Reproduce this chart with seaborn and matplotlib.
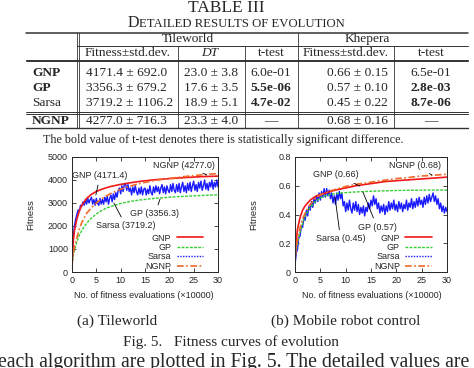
import numpy as np
import matplotlib
matplotlib.use("Agg")
import matplotlib.pyplot as plt
import pandas as pd
import seaborn as sns

# ---- data ----
methods = ["GNP", "GP", "Sarsa", "NGNP"]
method_bold = [True, True, False, True]
tile_fit = ["4171.4 ± 692.0", "3356.3 ± 679.2", "3719.2 ± 1106.2", "4277.0 ± 716.3"]
tile_dt = ["23.0 ± 3.8", "17.6 ± 3.5", "18.9 ± 5.1", "23.3 ± 4.0"]
tile_tt = ["6.0e-01", "5.5e-06", "4.7e-02", "—"]
khep_fit = ["0.66 ± 0.15", "0.57 ± 0.10", "0.45 ± 0.22", "0.68 ± 0.16"]
khep_tt = ["6.5e-01", "2.8e-03", "8.7e-06", "—"]
tile_bold = [False, True, True, False]
khep_bold = [False, True, True, False]

x_smooth = [0, 0.25, 0.5, 1, 1.5, 2, 3, 4, 5, 6, 7, 8, 10, 12, 14, 16, 18, 20, 22, 24, 26, 28, 30]
tw_gnp = [300, 1300, 1800, 2300, 2650, 2900, 3200, 3380, 3500, 3590, 3660, 3720, 3810, 3880, 3940,
          3990, 4030, 4060, 4090, 4115, 4140, 4155, 4170]
tw_ngnp = [300, 800, 1100, 1500, 1850, 2150, 2550, 2800, 3000, 3170, 3300, 3420, 3600, 3740, 3850,
           3940, 4010, 4070, 4120, 4170, 4210, 4250, 4280]
tw_gp = [300, 700, 950, 1300, 1600, 1800, 2120, 2350, 2520, 2660, 2770, 2850, 2980, 3070, 3130,
         3180, 3220, 3250, 3280, 3300, 3320, 3340, 3360]
tw_sarsa = [300, 1500, 2000, 2300, 2500, 2700, 2650, 2900, 2850, 3050, 2900, 3150,
            2950, 3200, 3000, 3150, 3250, 2950, 3150, 2900, 3200, 3000, 2900, 3200,
            2950, 3150, 2950, 3250, 3050, 3300, 2950, 3200, 3350, 3050, 3400, 3150,
            3450, 3250, 3550, 3650, 3400, 3750, 3500, 3800, 3850, 3550, 3800, 3500,
            3650, 3350, 3700, 3450, 3750, 3500, 3350, 3650, 3400, 3700, 3350, 3600,
            3650, 3350, 3600, 3400, 3750, 3450, 3350, 3700, 3450, 3750, 3500, 3700,
            3400, 3650, 3800, 3450, 3700, 3400, 3750, 3550, 3450, 3800, 3500, 3850,
            3550, 3450, 3800, 3500, 3850, 3450, 3700, 3900, 3500, 3750, 3450, 3850,
            3550, 3900, 3500, 3750, 3950, 3550, 3800, 3500, 3900, 3650, 3950, 3550,
            3750, 4000, 3600, 3850, 3550, 3900, 3700, 4000, 3600, 3900, 3700, 4000,
            3700]

kh_gnp = [0.1, 0.22, 0.3, 0.38, 0.43, 0.46, 0.5, 0.525, 0.54, 0.55, 0.56, 0.57, 0.585, 0.6, 0.61,
          0.62, 0.63, 0.635, 0.64, 0.645, 0.65, 0.655, 0.66]
kh_ngnp = [0.1, 0.17, 0.23, 0.31, 0.37, 0.41, 0.47, 0.51, 0.535, 0.55, 0.565, 0.575, 0.595, 0.61,
           0.62, 0.63, 0.64, 0.65, 0.655, 0.665, 0.67, 0.675, 0.68]
kh_gp = [0.1, 0.15, 0.2, 0.28, 0.34, 0.39, 0.45, 0.49, 0.515, 0.53, 0.54, 0.545, 0.552, 0.557, 0.56,
         0.563, 0.565, 0.567, 0.568, 0.569, 0.57, 0.57, 0.57]
kh_sarsa = [0.05, 0.13, 0.16, 0.24, 0.25, 0.32, 0.31, 0.38, 0.36, 0.43, 0.39, 0.46,
            0.43, 0.49, 0.45, 0.51, 0.48, 0.53, 0.49, 0.55, 0.50, 0.56, 0.52, 0.58,
            0.52, 0.58, 0.53, 0.57, 0.51, 0.55, 0.48, 0.53, 0.47, 0.55, 0.50, 0.56,
            0.51, 0.55, 0.46, 0.49, 0.42, 0.48, 0.43, 0.50, 0.44, 0.41, 0.48, 0.43,
            0.49, 0.42, 0.47, 0.40, 0.45, 0.41, 0.46, 0.39, 0.45, 0.42, 0.48, 0.44,
            0.50, 0.46, 0.53, 0.47, 0.51, 0.44, 0.48, 0.41, 0.46, 0.42, 0.47, 0.40,
            0.46, 0.42, 0.49, 0.43, 0.48, 0.44, 0.50, 0.43, 0.47, 0.42, 0.49, 0.44,
            0.48, 0.42, 0.47, 0.44, 0.50, 0.43, 0.48, 0.45, 0.51, 0.44, 0.49, 0.45,
            0.51, 0.46, 0.52, 0.47, 0.50, 0.45, 0.52, 0.47, 0.53, 0.48, 0.54, 0.49,
            0.52, 0.55, 0.49, 0.53, 0.47, 0.51, 0.44, 0.48, 0.42, 0.46, 0.41, 0.45,
            0.42]

colors = {"GNP": "#f01818", "GP": "#30d030", "Sarsa": "#1a1aff", "NGNP": "#f06a28"}
styles = {"GNP": "-", "GP": (0, (2, 1)), "Sarsa": (0, (1, 1)), "NGNP": (0, (4, 1.5, 1, 1.5))}
widths = {"GNP": 1.2, "GP": 1.0, "Sarsa": 1.0, "NGNP": 1.2}

sns.set_style("ticks")
plt.rcParams["font.family"] = ["Liberation Sans", "DejaVu Sans"]

W, H = 474, 368
fig = plt.figure(figsize=(W / 100, H / 100), dpi=100)


def fx(x):
    return x / W


def fy(y):
    return 1 - y / H


serif = ["Liberation Serif", "DejaVu Serif"]


def ftext(x, y, s, **kw):
    kw.setdefault("family", serif)
    kw.setdefault("va", "center")
    fig.text(fx(x), fy(y), s, **kw)


def hline(y, x0, x1, lw=0.8):
    fig.add_artist(plt.Line2D([fx(x0), fx(x1)], [fy(y), fy(y)], color="#333333", lw=lw))


def vline(x, y0, y1, lw=0.6):
    fig.add_artist(plt.Line2D([fx(x), fx(x)], [fy(y0), fy(y1)], color="#333333", lw=lw))


# ---- table ----
ftext(226, 8, "TABLE III", ha="center", size=12.5)
ftext(139, 23, "D", ha="right", size=11.5)
ftext(139, 23.8, "ETAILED RESULTS OF EVOLUTION", ha="left", size=9.2)

hline(32.5, 26, 468, 1.1)
hline(46, 77, 468, 0.7)
hline(59.5, 26, 468, 0.7)
hline(61, 26, 468, 0.7)
hline(112.5, 26, 468, 0.7)
hline(114, 26, 468, 0.7)
hline(128, 26, 468, 1.0)
vline(77, 32.5, 128)
vline(79, 32.5, 128)
for xv in [177.5, 244.5, 394]:
    vline(xv, 46, 128)
vline(298, 32.5, 128)

fs = 9.6
ftext(188, 39, "Tileworld", ha="center", size=fs)
ftext(367, 39, "Khepera", ha="center", size=fs)
ftext(128, 53.5, "Fitness±std.dev.", ha="center", size=fs)
ftext(210, 53.5, "DT", ha="center", size=fs, style="italic")
ftext(271, 53.5, "t-test", ha="center", size=fs)
ftext(346, 53.5, "Fitness±std.dev.", ha="center", size=fs)
ftext(431, 53.5, "t-test", ha="center", size=fs)

row_y = [73, 88, 103, 121]
for i, m in enumerate(methods):
    y = row_y[i]
    ftext(32, y, m, ha="left", size=fs, weight="bold" if method_bold[i] else "normal")
    ftext(86, y, tile_fit[i], ha="left", size=fs)
    ftext(238, y, tile_dt[i], ha="right", size=fs)
    ftext(271, y, tile_tt[i], ha="center", size=fs, weight="bold" if tile_bold[i] else "normal")
    ftext(388, y, khep_fit[i], ha="right", size=fs)
    ftext(431, y, khep_tt[i], ha="center", size=fs, weight="bold" if khep_bold[i] else "normal")

ftext(223, 140, "The bold value of t-test denotes there is statistically significant difference.",
      ha="center", size=8.7)

# ---- charts ----
x_sarsa_tw = np.linspace(0, 30, len(tw_sarsa))
x_sarsa_kh = np.linspace(0, 30, len(kh_sarsa))

ax1 = fig.add_axes([fx(72), fy(272), fx(218 - 72), (272 - 157) / H])
ax2 = fig.add_axes([fx(295), fy(272), fx(447 - 295), (272 - 157) / H])

panels = [
    (ax1, {"GNP": (x_smooth, tw_gnp), "GP": (x_smooth, tw_gp), "Sarsa": (x_sarsa_tw, tw_sarsa),
           "NGNP": (x_smooth, tw_ngnp)}, 5000, [0, 1000, 2000, 3000, 4000, 5000]),
    (ax2, {"GNP": (x_smooth, kh_gnp), "GP": (x_smooth, kh_gp), "Sarsa": (x_sarsa_kh, kh_sarsa),
           "NGNP": (x_smooth, kh_ngnp)}, 0.8, [0, 0.2, 0.4, 0.6, 0.8]),
]

handles = [plt.Line2D([], [], color=colors[m], linestyle=styles[m], lw=widths[m]) for m in methods]

for ax, series, ymax, yt in panels:
    for m in ["Sarsa", "GP", "GNP", "NGNP"]:
        xs, ys = series[m]
        ls = "-" if m == "Sarsa" else styles[m]
        sns.lineplot(x=xs, y=ys, ax=ax, color=colors[m], linestyle=ls, lw=widths[m], legend=False)
    ax.set_xlim(0, 30)
    ax.set_ylim(0, ymax)
    ax.set_xticks([0, 5, 10, 15, 20, 25, 30])
    ax.set_yticks(yt)
    ax.set_yticklabels([f"{v:g}" for v in yt])
    ax.tick_params(direction="in", length=3, width=0.6, labelsize=6.5, top=True, right=True, pad=3)
    for s in ax.spines.values():
        s.set_linewidth(0.7)
        s.set_visible(True)
    ax.set_xlabel("")
    ax.set_ylabel("Fitness", fontsize=6.8)
    ax.legend(handles, methods, loc="lower right", bbox_to_anchor=(0.94, -0.045),
              frameon=False, markerfirst=False, fontsize=6.5, handlelength=2.9, labelspacing=0.05,
              handletextpad=0.6, borderpad=0.2)

ax1.yaxis.set_label_coords(-0.25, 0.5)
ax2.yaxis.set_label_coords(-0.24, 0.5)

arrow = dict(arrowstyle="-", lw=0.6, color="black", shrinkA=1, shrinkB=0)
ann1 = [("GNP (4171.4)", (5.75, 4174), (4.9, 3350)),
        ("NGNP (4277.0)", (22.9, 4652), (27.7, 4217)),
        ("GP (3356.3)", (17.05, 2522), (18.1, 3174)),
        ("Sarsa (3719.2)", (11.1, 2000), (8.6, 3000))]
ann2 = [("GNP (0.66)", (8.0, 0.675), (12.8, 0.598)),
        ("NGNP (0.68)", (23.6, 0.744), (27.0, 0.675)),
        ("GP (0.57)", (16.2, 0.313), (13.4, 0.557)),
        ("Sarsa (0.45)", (9.0, 0.23), (7.9, 0.52))]
for ax, anns in [(ax1, ann1), (ax2, ann2)]:
    for s, txy, pxy in anns:
        ax.annotate(s, xy=pxy, xytext=txy, ha="center", va="center", fontsize=6.5,
                    arrowprops=arrow)

fig.text(fx(144), fy(296), "No. of fitness evaluations (×10000)", ha="center", va="center", size=6.5)
fig.text(fx(372), fy(296), "No. of fitness evaluations (×10000)", ha="center", va="center", size=6.5)

ftext(117, 321, "(a) Tileworld", ha="center", size=11)
ftext(346, 321, "(b) Mobile robot control", ha="center", size=11)
ftext(231, 342, "Fig. 5.   Fitness curves of evolution", ha="center", size=11)
ftext(-2, 367, "each algorithm are plotted in Fig. 5. The detailed values are", ha="left",
      va="baseline", size=14.2)

fig.savefig("out.png", dpi=100)
